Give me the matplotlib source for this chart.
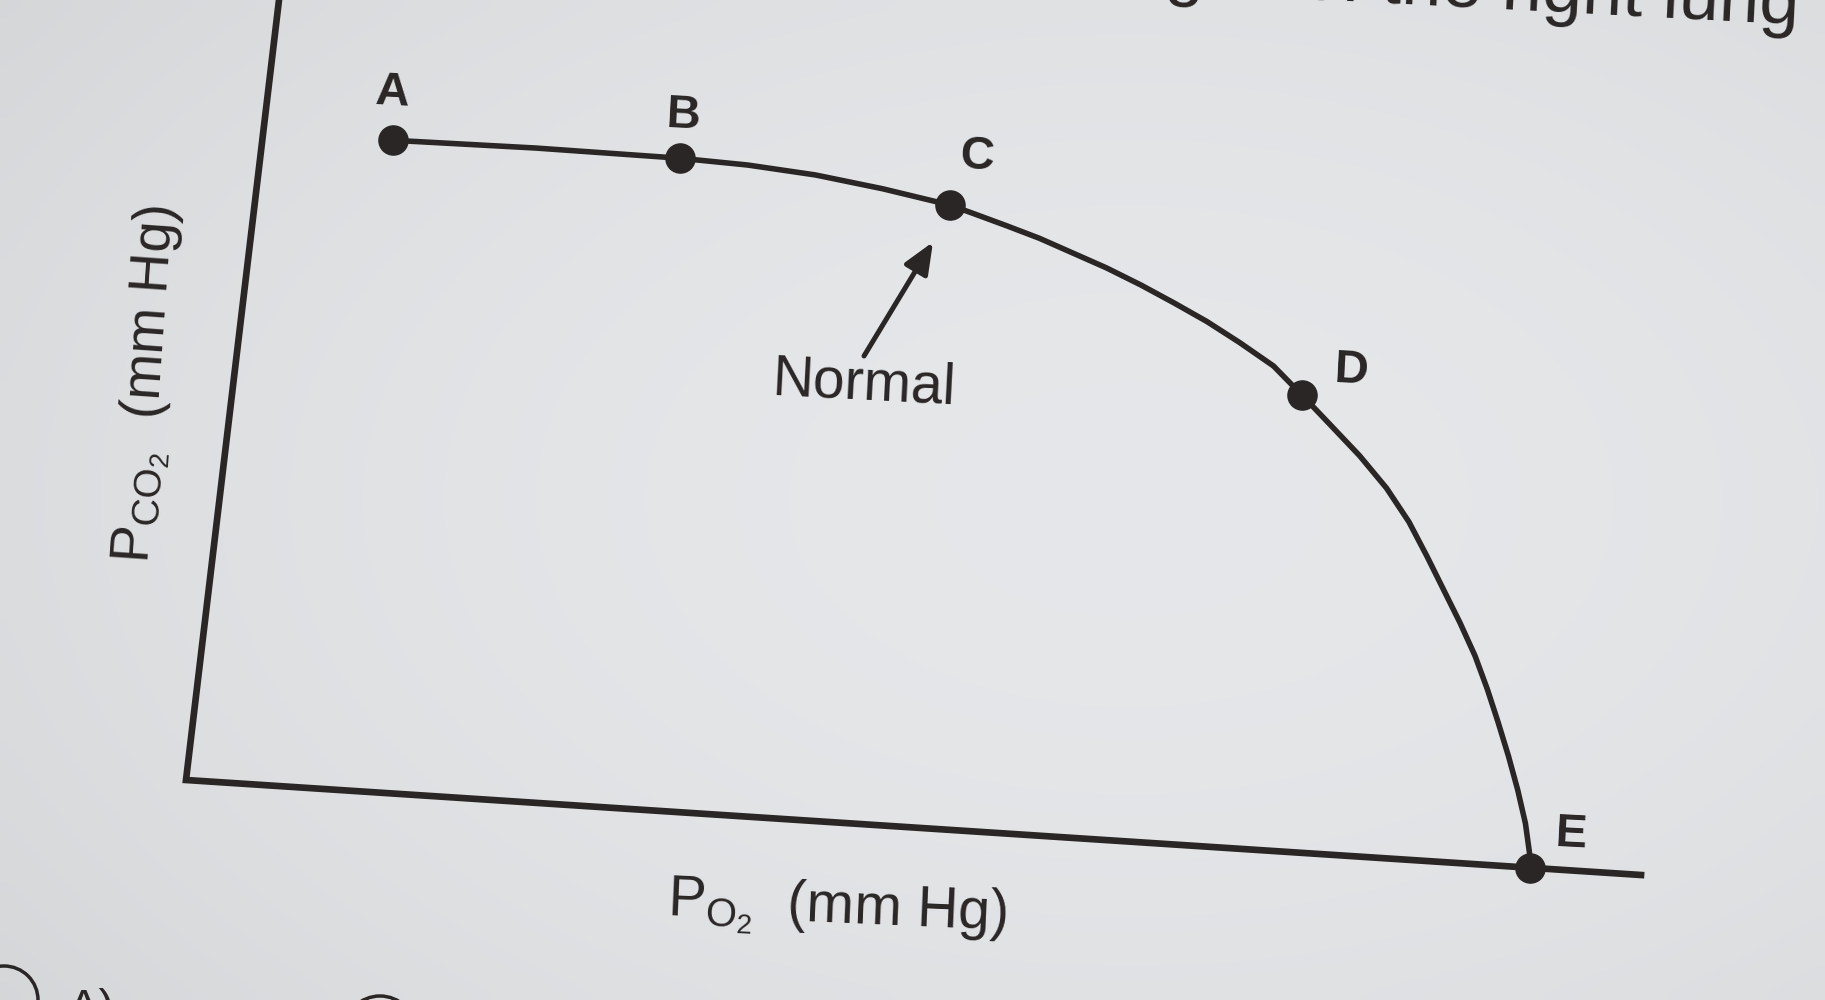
import numpy as np
import matplotlib.pyplot as plt
from matplotlib.transforms import Affine2D
from matplotlib.patches import Circle

plt.rcParams['font.family'] = ['Liberation Sans', 'DejaVu Sans']
plt.rcParams['mathtext.fontset'] = 'custom'
plt.rcParams['mathtext.rm'] = 'Liberation Sans'
plt.rcParams['mathtext.it'] = 'Liberation Sans:italic'

# O2-CO2 curve, in axis units (0-100 along each axis)
po2 = [8.9, 18.7, 28.6, 33.3, 38.0, 42.7, 47.4, 49.1, 51.5, 53.8, 56.2, 58.6,
       61.1, 63.5, 65.9, 68.3, 70.8, 73.0, 74.9, 77.4, 79.5, 81.3, 82.8, 84.2,
       85.6, 86.9, 88.0, 89.0, 90.0, 90.9, 91.7, 92.2, 92.4]
pco2 = [83.1, 83.3, 83.2, 82.9, 82.2, 81.0, 79.5, 78.6, 77.3, 76.0, 74.4, 72.8,
        70.9, 68.9, 66.8, 64.4, 61.7, 58.2, 55.1, 51.0, 47.1, 43.0, 38.8, 34.7,
        30.6, 26.5, 22.4, 18.3, 14.0, 9.8, 5.6, 2.0, 0.0]

point_names = ["A", "B", "C", "D", "E"]
point_po2 = [8.9, 28.6, 47.4, 73.0, 92.4]
point_pco2 = [83.1, 83.2, 79.5, 58.2, 0.0]
label_offsets = [(0, 47), (4, 42), (27, 48), (49, 24), (41, 33)]

ink = "#2a2626"

fig = plt.figure(figsize=(18.25, 10), dpi=100)
ax = fig.add_axes([0, 0, 1, 1])
ax.set_xlim(0, 1825)
ax.set_ylim(1000, 0)
ax.axis('off')

# paper background, a bit darker at the edges like the photo
yy, xx = np.mgrid[0:1:60j, 0:1:110j]
shade = 0.915 - 0.11 * ((xx - 0.62) ** 2 + 0.8 * (yy - 0.5) ** 2)
rgb = np.clip(shade[..., None] * np.array([0.985, 0.99, 1.0]), 0, 1)
ax.imshow(rgb, extent=(0, 1825, 1000, 0), interpolation='bicubic', zorder=0, aspect='auto')

# the photo is tilted, so the chart frame is skewed into the picture
frame = Affine2D.from_values(14.55, 0.95, 0.93, -7.80, 186, 780) + ax.transData

ax.plot([0, 0, 100], [100, 0, 0], transform=frame, color=ink, lw=4.8,
        solid_joinstyle='miter', zorder=2)
ax.plot(po2, pco2, transform=frame, color=ink, lw=4.0, solid_capstyle='round',
        solid_joinstyle='round', zorder=3)
ax.plot(point_po2, point_pco2, 'o', ms=21, color=ink, transform=frame, zorder=4)

for name, x, y, off in zip(point_names, point_po2, point_pco2, label_offsets):
    ax.annotate(name, (x, y), xycoords=frame, xytext=off, textcoords='offset pixels',
                ha='center', va='center', fontsize=34, fontweight='bold', color=ink,
                rotation=-3)

ax.text(864, 384, "Normal", ha='center', va='center', fontsize=41, color=ink, rotation=-3)
ax.annotate("", xy=(933, 242), xytext=(864, 356),
            arrowprops=dict(arrowstyle='-|>,head_length=1.9,head_width=0.8', lw=3.6,
                            color=ink, shrinkA=0, shrinkB=0))

ax.text(837, 910, r"P$_{\mathrm{O}_2}$  (mm Hg)", ha='center', va='center',
        fontsize=41, color=ink, rotation=-2.5)
ax.text(148, 384, r"P$_{\mathrm{CO}_2}$  (mm Hg)", ha='center', va='center',
        fontsize=40, color=ink, rotation=86)

# bits of the page cut off by the photo
ax.text(1798, 25, "in alveolar gas of the right lung", ha='right', va='baseline',
        fontsize=52, color=ink, rotation=-3, rotation_mode='anchor')
ax.add_patch(Circle((4, 1000), 34, fill=False, ec=ink, lw=2.5, zorder=2))
ax.add_patch(Circle((380, 1032), 36, fill=False, ec=ink, lw=2.5, zorder=2))
ax.text(68, 988, "A)", ha='left', va='top', fontsize=34, color=ink)

fig.savefig("out.png", dpi=100)
